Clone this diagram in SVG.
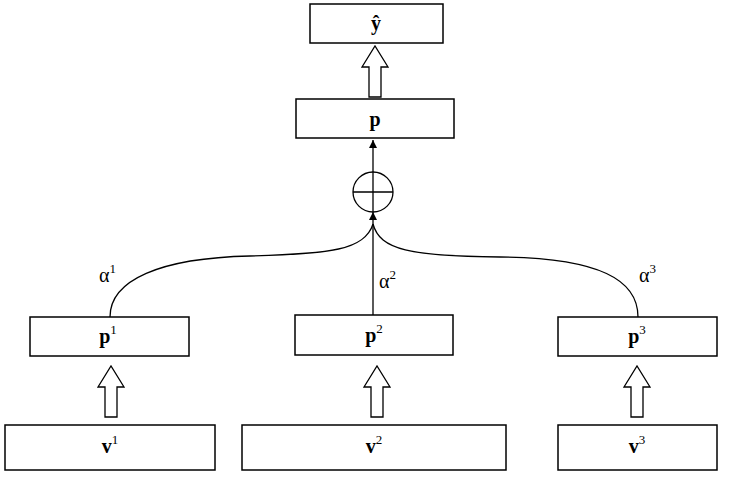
<svg xmlns="http://www.w3.org/2000/svg" width="732" height="485" viewBox="0 0 732 485">
<style>
.b{fill:#fff;stroke:#000;stroke-width:1.5}
.t{font-family:"Liberation Serif",serif;font-weight:bold;font-size:20px;text-anchor:middle}
.s{font-family:"Liberation Serif",serif;font-weight:normal;font-size:13px}
.a{font-family:"Liberation Serif",serif;font-size:20px}
.as{font-family:"Liberation Serif",serif;font-size:13px}
.l{fill:none;stroke:#000;stroke-width:1.3}
.h{fill:#fff;stroke:#000;stroke-width:1.3}
</style>
<defs>
<marker id="m" viewBox="0 0 10 10" refX="10" refY="5" markerWidth="8" markerHeight="8" markerUnits="userSpaceOnUse" orient="auto"><path d="M0,0L10,5L0,10z"/></marker>
<path id="ha" d="M-6,0V-30H-13L0,-51L13,-30H6V0z"/>
</defs>
<g id="yhat"><rect class="b" x="310" y="4" width="133" height="39"/><text class="t" x="376" y="30">ŷ</text></g>
<g id="p"><rect class="b" x="296" y="99" width="158" height="39"/><text class="t" x="375" y="126">p</text></g>
<g id="sum"><circle class="l" cx="373" cy="192" r="20"/><path class="l" d="M353,192H393M373,172V212"/></g>
<g id="p1"><rect class="b" x="30" y="317" width="159" height="39"/><text class="t" x="108" y="343">p<tspan class="s" dy="-9">1</tspan></text></g>
<g id="p2"><rect class="b" x="295" y="315" width="158" height="40"/><text class="t" x="374" y="342">p<tspan class="s" dy="-9">2</tspan></text></g>
<g id="p3"><rect class="b" x="558" y="317" width="159" height="39"/><text class="t" x="637" y="343">p<tspan class="s" dy="-9">3</tspan></text></g>
<g id="v1"><rect class="b" x="5" y="425" width="210" height="45"/><text class="t" x="110" y="453">v<tspan class="s" dy="-9">1</tspan></text></g>
<g id="v2"><rect class="b" x="242" y="425" width="264" height="45"/><text class="t" x="374" y="453">v<tspan class="s" dy="-9">2</tspan></text></g>
<g id="v3"><rect class="b" x="558" y="425" width="159" height="45"/><text class="t" x="637" y="453">v<tspan class="s" dy="-9">3</tspan></text></g>
<g id="connectors">
<use href="#ha" class="h" x="375" y="97"/>
<use href="#ha" class="h" x="111" y="417"/>
<use href="#ha" class="h" x="377" y="417"/>
<use href="#ha" class="h" x="637" y="417"/>
<path class="l" d="M373,172V140" marker-end="url(#m)"/>
<path class="l" d="M373,315V212" marker-end="url(#m)"/>
<path class="l" d="M110,317C110,280 160,258 250,256C330,254 365,250 373,224"/>
<path class="l" d="M638,317C638,280 600,258 500,257C410,256 380,250 373,224"/>
<text class="a" x="99" y="282">α<tspan class="as" dy="-9">1</tspan></text>
<text class="a" x="379" y="288">α<tspan class="as" dy="-9">2</tspan></text>
<text class="a" x="639" y="282">α<tspan class="as" dy="-9">3</tspan></text>
</g>
</svg>
